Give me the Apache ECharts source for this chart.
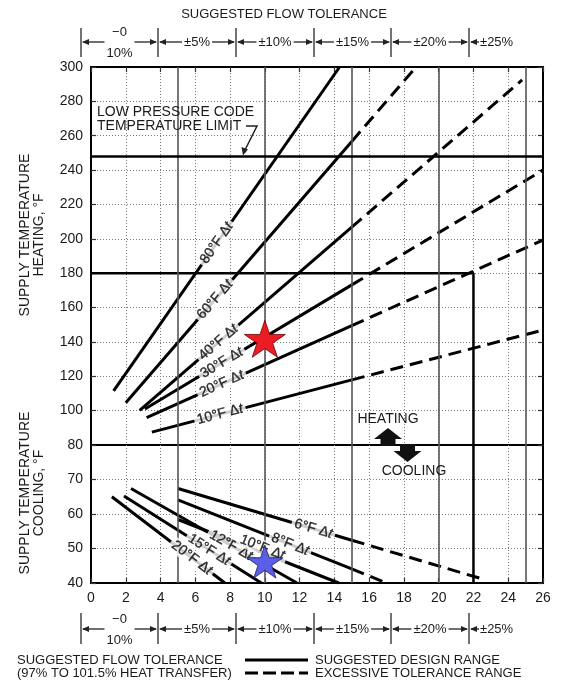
<!DOCTYPE html>
<html><head><meta charset="utf-8">
<script src="https://cdn.jsdelivr.net/npm/echarts@6/dist/echarts.min.js"></script>
<style>html,body{margin:0;padding:0;background:#fff}#c{width:582px;height:692px}</style>
</head><body><div id="c"></div>
<script>
const FONT = '"Liberation Sans", Arial, Helvetica, sans-serif';

// ---------- data ----------
const xTickLabels = [0,2,4,6,8,10,12,14,16,18,20,22,24,26];
const heatTickLabels = [80,100,120,140,160,180,200,220,240,260,280,300];
const coolTickLabels = [40,50,60,70,80];
const toleranceBounds = [5,10,15,20,25];
const toleranceLabels = ['±5%','±10%','±15%','±20%','±25%'];

const heatNames = ['80°F','60°F','40°F','30°F','20°F','10°F'];
const heatStart = [[1.3,111.5],[2.0,104.6],[2.8,100.2],[3.1,101],[3.2,96],[3.5,87.5]];
const heatKnee  = [[14.3,300],[15,256.7],[15,206.8],[15,173.2],[15,149.5],[15,117.9]];
const heatEnd   = [null,[18.7,300],[24.8,292.5],[26,240],[26,199.3],[26,146.9]];

const coolNames = ['20°F','15°F','12°F','10°F','8°F','6°F'];
const coolStart = [[1.2,65],[1.9,65.2],[2.3,67.4],[5,58.4],[5,64.1],[5,67.4]];
const coolKnee  = [[7.7,40],[9.8,40],[11.85,40],[14.25,40],[15,44.1],[15,52.4]];
const coolEnd   = [null,null,null,null,[16.8,40.4],[22.7,40.9]];

const codeLimit = 248;
const designFrameHeat = [[0,180],[22,180],[22,80]];
const designFrameCool = [[22,80],[22,40]];
const heatStar = [10,141.8];
const coolStar = [10,46.2];

// label anchor positions (x along each line) and small vertical nudges (px)
const heatLabelAt = [7.23,7.13,7.33,7.52,7.52,7.42];
const coolLabelAt = [5.8,6.79,8.05,9.75,11.45,12.79];
const coolLabelNudge = [0,0,0,-5,0,0];

// ---------- helpers ----------
const STAR = 'path://M50,0 L61.23,34.55 L97.55,34.55 L68.17,55.9 L79.39,90.45 L50,69.1 L20.61,90.45 L31.83,55.9 L2.45,34.55 L38.77,34.55 Z';
function yOnLine(s,k,e,x){
  const seg = (e && x>k[0]) ? [k,e] : [s,k];
  const p=seg[0], q=seg[1];
  return p[1]+(q[1]-p[1])*(x-p[0])/(q[0]-p[0]);
}
const solid = {color:'#000', width:3};
const dashed = {color:'#000', width:3, type:[13,7]};

function lineSeries(g, starts, knees, ends, prefix){
  const out=[];
  starts.forEach((s,i)=>{
    out.push({type:'line', name:prefix+i+'s', xAxisIndex:g, yAxisIndex:g*2, data:[s,knees[i]],
      symbol:'none', lineStyle:solid, z:3, silent:true, clip:true});
    if(ends[i]) out.push({type:'line', name:prefix+i+'d', xAxisIndex:g, yAxisIndex:g*2, data:[knees[i],ends[i]],
      symbol:'none', lineStyle:dashed, z:3, silent:true, clip:true});
  });
  return out;
}

const axisTick = {show:true, inside:true, length:5, lineStyle:{color:'#333', width:1.2}};
const dotted = {show:true, showMinLine:false, showMaxLine:false, lineStyle:{color:'#7a7a7a', type:[1,2], width:1}};
const axLabel = {fontSize:14, color:'#1a1a1a', fontFamily:FONT, margin:8};

const vMarks = toleranceBounds.map(v=>({xAxis:v, lineStyle:{color:'#555', width:1.6, type:'solid'}}));

// ---------- graphic ----------
const ctx = document.createElement('canvas').getContext('2d');
function tw(t, size){ ctx.font = size+'px "Liberation Sans", Arial'; return ctx.measureText(t).width; }
function T(x,y,text,size,align,extra){
  return Object.assign({type:'text', x, y, silent:true, z:100,
    style:{text, font:size+'px '+FONT, fill:'#1a1a1a', align:align||'left', textAlign:align||'left',
      verticalAlign:'middle', textVerticalAlign:'middle'}}, extra||{});
}
function L(x1,y1,x2,y2,w,extra){
  return {type:'line', silent:true, z:100, shape:{x1,y1,x2,y2}, style:Object.assign({stroke:'#222', lineWidth:w||1.3}, extra||{})};
}
function P(points, fill){ return {type:'polygon', silent:true, z:100, shape:{points}, style:{fill:fill||'#222'}}; }

const tolX = [81,158,236,314,391,469];
function tolBar(yc, yTop, yBot){
  const els=[];
  tolX.forEach(x=>els.push(L(x,yTop,x,yBot,1.5,{stroke:'#444'})));
  for(let i=0;i<5;i++){
    const a=tolX[i], b=tolX[i+1], c=(a+b)/2;
    let w;
    if(i===0){
      w = tw('10%',13);
      els.push(T(c, yc-10, '−0', 13, 'center'));
      els.push(T(c, yc+11, '10%', 13, 'center'));
    } else {
      const lab = toleranceLabels[i-1];
      w = tw(lab,13);
      els.push(T(c, yc, lab, 13, 'center'));
    }
    els.push(L(a+2, yc, c-w/2-2, yc, 1.3));
    els.push(P([[a+1,yc],[a+8,yc-3],[a+8,yc+3]]));
    els.push(L(c+w/2+2, yc, b-2, yc, 1.3));
    els.push(P([[b-1,yc],[b-8,yc-3],[b-8,yc+3]]));
  }
  const x5=tolX[5];
  els.push(P([[x5+1,yc],[x5+8,yc-3],[x5+8,yc+3]]));
  els.push(L(x5+2,yc,x5+10,yc,1.3));
  els.push(T(x5+11, yc, toleranceLabels[4], 13, 'left'));
  return els;
}

const graphics = [].concat(
  [T(284, 14, 'SUGGESTED FLOW TOLERANCE', 13, 'center')],
  tolBar(42, 28, 57),
  tolBar(629, 613, 644),
  [
    T(17, 660, 'SUGGESTED FLOW TOLERANCE', 13, 'left'),
    T(17, 673, '(97% TO 101.5% HEAT TRANSFER)', 13, 'left'),
    L(245, 660, 308, 660, 3, {stroke:'#000'}),
    L(245, 673, 308, 673, 3, {stroke:'#000', lineDash:[13,5]}),
    T(315, 660, 'SUGGESTED DESIGN RANGE', 13, 'left'),
    T(315, 673, 'EXCESSIVE TOLERANCE RANGE', 13, 'left'),
    Object.assign(T(32, 235, 'SUPPLY TEMPERATURE\nHEATING, °F', 14, 'center'), {rotation:Math.PI/2}),
    Object.assign(T(32, 493, 'SUPPLY TEMPERATURE\nCOOLING, °F', 14, 'center'), {rotation:Math.PI/2}),
    T(97, 112, 'LOW PRESSURE CODE', 14, 'left'),
    T(97, 126, 'TEMPERATURE LIMIT', 14, 'left'),
    {type:'polyline', silent:true, z:100, shape:{points:[[246,126],[257,126],[245,150]]}, style:{stroke:'#222', lineWidth:1.5, fill:null}},
    P([[243,155.5],[241.5,147],[248,149.5]]),
    T(388, 419, 'HEATING', 14, 'center'),
    T(414, 471, 'COOLING', 14, 'center'),
    P([[388,428],[402,439],[395.5,439],[395.5,446],[380.5,446],[380.5,439],[374,439]], '#111'),
    P([[400,444],[415,444],[415,451],[421.5,451],[407.5,462],[393.5,451],[400,451]], '#111')
  ]
);

// ---------- option ----------
const series = [].concat(
  [{type:'line', name:'designHeat', xAxisIndex:0, yAxisIndex:0, data:designFrameHeat, symbol:'none',
     lineStyle:{color:'#000', width:2.5}, z:2, silent:true,
     markLine:{silent:true, symbol:['none','none'], label:{show:false}, animation:false,
       data: vMarks.concat([{yAxis:codeLimit, lineStyle:{color:'#000', width:2.5, type:'solid'}}])}},
   {type:'line', name:'designCool', xAxisIndex:1, yAxisIndex:2, data:designFrameCool, symbol:'none',
     lineStyle:{color:'#000', width:2.5}, z:2, silent:true,
     markLine:{silent:true, symbol:['none','none'], label:{show:false}, animation:false, data: vMarks}}],
  lineSeries(0, heatStart, heatKnee, heatEnd, 'h'),
  lineSeries(1, coolStart, coolKnee, coolEnd, 'c'),
  [{type:'scatter', id:'heatLabels', xAxisIndex:0, yAxisIndex:0, data:[], z:6},
   {type:'scatter', id:'coolLabels', xAxisIndex:1, yAxisIndex:2, data:[], z:6},
   {type:'scatter', name:'heatStar', xAxisIndex:0, yAxisIndex:0, data:[heatStar], symbol:STAR, symbolSize:[41,37],
     itemStyle:{color:'#ec1c24', borderColor:'#6a0000', borderWidth:0.8, opacity:1}, z:10, silent:true},
   {type:'scatter', name:'coolStar', xAxisIndex:1, yAxisIndex:2, data:[coolStar], symbol:STAR, symbolSize:[36,33],
     itemStyle:{color:'#5a5fe6', borderColor:'#1a1a5a', borderWidth:0.8, opacity:1}, z:10, silent:true}]
);

const option = {
  animation:false,
  backgroundColor:'#fff',
  textStyle:{fontFamily:FONT},
  grid:[
    {left:91, right:39, top:67, height:378, show:true, borderColor:'#000', borderWidth:2, backgroundColor:'transparent'},
    {left:91, right:39, top:445, height:138, show:true, borderColor:'#000', borderWidth:2, backgroundColor:'transparent'}
  ],
  xAxis:[
    {gridIndex:0, type:'value', min:xTickLabels[0], max:xTickLabels[xTickLabels.length-1], interval:2, position:'top',
      axisLine:{show:false}, axisLabel:{show:false}, axisTick:axisTick, splitLine:dotted},
    {gridIndex:1, type:'value', min:xTickLabels[0], max:xTickLabels[xTickLabels.length-1], interval:2, position:'bottom',
      axisLine:{show:false}, axisLabel:axLabel, axisTick:axisTick, splitLine:dotted}
  ],
  yAxis:[
    {gridIndex:0, type:'value', min:heatTickLabels[0], max:heatTickLabels[heatTickLabels.length-1], interval:20,
      axisLine:{show:false}, axisLabel:axLabel, axisTick:axisTick, splitLine:dotted},
    {gridIndex:0, type:'value', position:'right', min:80, max:300, interval:20,
      axisLine:{show:false}, axisLabel:{show:false}, axisTick:axisTick, splitLine:{show:false}},
    {gridIndex:1, type:'value', min:coolTickLabels[0], max:coolTickLabels[coolTickLabels.length-1], interval:10,
      axisLine:{show:false}, axisLabel:Object.assign({showMaxLabel:false}, axLabel), axisTick:axisTick, splitLine:dotted},
    {gridIndex:1, type:'value', position:'right', min:40, max:80, interval:10,
      axisLine:{show:false}, axisLabel:{show:false}, axisTick:axisTick, splitLine:{show:false}}
  ],
  graphic:{elements:graphics},
  series
};

const chart = echarts.init(document.getElementById('c'));
chart.setOption(option);

function labelData(g, names, starts, knees, ends, at, nudge){
  return names.map((n,i)=>{
    const p1 = chart.convertToPixel({gridIndex:g}, starts[i]);
    const p2 = chart.convertToPixel({gridIndex:g}, knees[i]);
    const ang = -Math.atan2(p2[1]-p1[1], p2[0]-p1[0])*180/Math.PI;
    const x = at[i];
    return {value:[x, yOnLine(starts[i],knees[i],ends[i],x)], name:n,
      label:{rotate:ang, offset:[0, nudge ? nudge[i] : 0], formatter:'{a|'+n+' Δ}{b|t}'}};
  });
}
const richBase = {fontSize:14, color:'#000', fontFamily:FONT, textBorderColor:'#000', textBorderWidth:0.35};
const labelCommon = {symbol:'circle', symbolSize:1, itemStyle:{color:'rgba(255,255,255,0)'}, silent:true,
  emphasis:{disabled:true},
  label:{show:true, position:'inside', color:'#000', backgroundColor:'#fff', padding:[0,3], lineHeight:15,
    rich:{a:Object.assign({}, richBase), b:Object.assign({fontStyle:'italic'}, richBase)}}};
chart.setOption({series:[
  Object.assign({id:'heatLabels', data:labelData(0, heatNames, heatStart, heatKnee, heatEnd, heatLabelAt)}, labelCommon),
  Object.assign({id:'coolLabels', data:labelData(1, coolNames, coolStart, coolKnee, coolEnd, coolLabelAt, coolLabelNudge)}, labelCommon)
]});
</script></body></html>
